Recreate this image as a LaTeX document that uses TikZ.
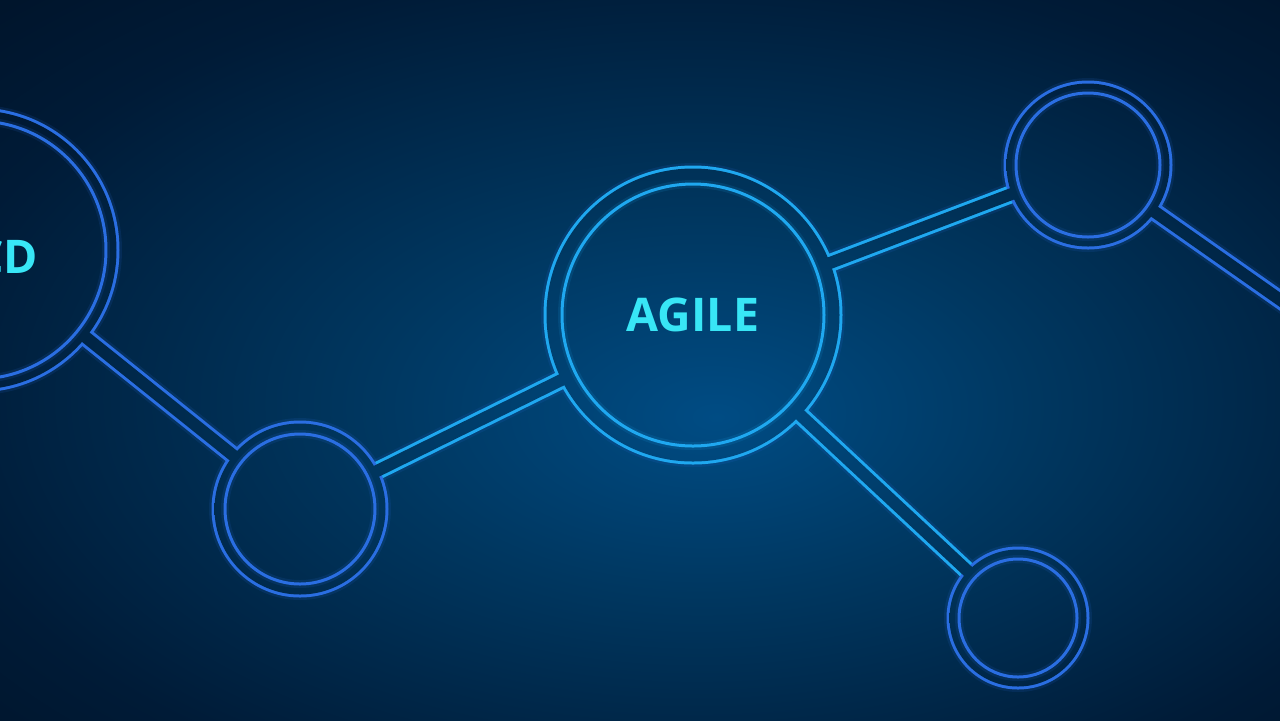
\documentclass[tikz,border=0pt]{standalone}
\usepackage{fontspec}
\setsansfont{Open Sans}
\usepackage{tikz}
\usetikzlibrary{calc}

\definecolor{ringcyan}{HTML}{1FA8F0}
\definecolor{ringblue}{HTML}{2A6EE2}
\definecolor{labelcyan}{HTML}{38E6F6}
\definecolor{bgcore}{HTML}{004C84}
\definecolor{bgmid}{HTML}{003760}
\definecolor{bgfar}{HTML}{001B37}
\definecolor{bgdeep}{HTML}{000C1C}
\definecolor{bgedge}{HTML}{00040A}

\pgfdeclareradialshading{bgglow}{\pgfpoint{3bp}{-4bp}}{color(0bp)=(bgcore); color(13bp)=(bgmid); color(30bp)=(bgfar); color(48bp)=(bgdeep); color(72bp)=(bgedge)}

\pgfdeclarelayer{back}
\pgfsetlayers{back,main}

\begin{document}
\begin{tikzpicture}[x=0.1mm, y=-0.1mm,
		hub/.style={circle, draw=#1, line width=0.3mm, inner sep=0pt,
			preaction={draw=#1, line width=0.8mm, opacity=0.12}},
		hubtext/.style={text=labelcyan, inner sep=0pt, font=\sffamily\bfseries\fontsize{13.2}{14}\selectfont},
		tube/.style={draw=#1, line width=1.8mm},
		bg/.style={shading=bgglow}]
		\useasboundingbox (0,0) rectangle (1280,720);
		
		\node[hub=ringblue, minimum size=25.8mm] (cd) at (-23,250) {};
		\node[hub=ringblue, minimum size=15mm] (h1) at (300,509) {};
		\node[hub=ringcyan, minimum size=26.2mm, hubtext] (agile) at (693,315) {AGILE};
		\node[hub=ringblue, minimum size=14.4mm] (h2) at (1088,165) {};
		\node[hub=ringblue, minimum size=11.8mm] (h3) at (1018,618) {};
		\coordinate (out) at (1400,384);
		\node[hubtext, anchor=east] (cdlabel) at (39,257) {CD};
		
		\begin{pgfonlayer}{back}
			\shade[bg] (0,0) rectangle (1280,720);
			% soft glow round the tubes
			\foreach \a/\b in {cd/h1, h1/agile, agile/h2, agile/h3, h2/out}
				\draw[ringblue, line width=2.3mm, opacity=0.12] (\a.center) -- (\b.center);
			\foreach \n/\r in {cd/141, h1/87, agile/148, h2/83, h3/70}
				\draw[ringblue, line width=0.8mm, opacity=0.12] (\n.center) circle[radius=\r];
			% outer outline
			\foreach \a/\b/\c in {cd/h1/ringblue, h1/agile/ringcyan, agile/h2/ringcyan, agile/h3/ringcyan, h2/out/ringblue}
				\draw[tube=\c] (\a.center) -- (\b.center);
			\foreach \n/\r/\c in {cd/141/ringblue, h1/87/ringblue, agile/148/ringcyan, h2/83/ringblue, h3/70/ringblue}
				\fill[\c] (\n.center) circle[radius=\r+1.5];
			% hollow it out again
			\foreach \n/\r in {cd/141, h1/87, agile/148, h2/83, h3/70} {
				\begin{scope}
					\clip (\n.center) circle[radius=\r-1.5];
					\shade[bg] (0,0) rectangle (1280,720);
				\end{scope}
			}
			\foreach \a/\b in {cd/h1, h1/agile, agile/h2, agile/h3, h2/out} {
				\begin{scope}
					\clip ($(\a.center)!0.6mm!90:(\b.center)$) -- ($(\b.center)!0.6mm!-90:(\a.center)$)
						-- ($(\b.center)!0.6mm!90:(\a.center)$) -- ($(\a.center)!0.6mm!-90:(\b.center)$) -- cycle;
					\shade[bg] (0,0) rectangle (1280,720);
				\end{scope}
			}
		\end{pgfonlayer}
	\end{tikzpicture}
\end{document}
